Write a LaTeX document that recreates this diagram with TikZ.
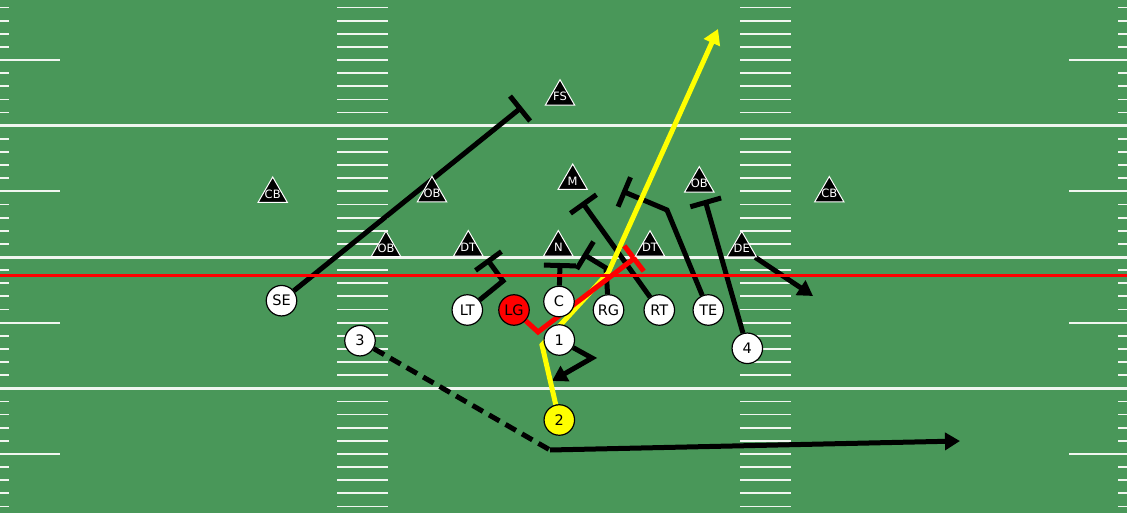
\documentclass[tikz,border=0pt]{standalone}
\usepackage{fontspec}
\setmainfont{DejaVu Sans}
\usetikzlibrary{shapes.geometric, arrows.meta, backgrounds}
\definecolor{turfgreen}{RGB}{73,151,89}
\definecolor{chalkwhite}{RGB}{240,246,240}
\definecolor{blitzred}{RGB}{255,0,0}
\definecolor{sweepyellow}{RGB}{255,255,0}

\tikzset{
  player/.style={circle, draw=black, line width=1.2pt, fill=white, minimum size=30.5pt, inner sep=0pt, font=\fontsize{14.5}{14.5}\selectfont},
  defender/.style={regular polygon, regular polygon sides=3, draw=white, line width=1pt, fill=black, text=white, minimum size=34pt, inner sep=0pt, font=\fontsize{11.5}{11.5}\selectfont},
  routeline/.style={line width=5pt, black},
  blockend/.style={-{Bar[width=32pt]}},
  runarrow/.style={-{Triangle[length=15pt,width=17pt]}},
  hashmark/.style={chalkwhite, line width=1.8pt},
  yardline/.style={chalkwhite, line width=3pt}
}

\begin{document}
\begin{tikzpicture}[x=1pt, y=-1pt]
\useasboundingbox (0,0) rectangle (1127,513);

% Offense
\node[player] (se) at (281.5,300.7) {SE};
\node[player] (lt) at (467.3,310) {LT};
\node[player, fill=blitzred] (lg) at (514,310) {LG};
\node[player] (c) at (559,301.5) {C};
\node[player] (rg) at (608.5,310) {RG};
\node[player] (rt) at (659.3,310) {RT};
\node[player] (te) at (708.3,310) {TE};
\node[player] (one) at (559.3,340) {1};
\node[player, fill=sweepyellow] (two) at (559.3,420) {2};
\node[player] (three) at (360,340.7) {3};
\node[player] (four) at (747.3,348.3) {4};

% Defense
\node[defender] (fs) at (560,96.7) {\makebox[0pt]{FS}};
\node[defender] (cbL) at (272.7,194) {\makebox[0pt]{CB}};
\node[defender] (obL) at (432,193.4) {\makebox[0pt]{OB}};
\node[defender] (m) at (572.7,181) {\makebox[0pt]{M}};
\node[defender] (obR) at (699.3,183.6) {\makebox[0pt]{OB}};
\node[defender] (cbR) at (829.3,193.5) {\makebox[0pt]{CB}};
\node[defender] (obLow) at (386,248) {\makebox[0pt]{OB}};
\node[defender] (dtL) at (468.3,247.5) {\makebox[0pt]{DT}};
\node[defender] (n) at (558.3,247.5) {\makebox[0pt]{N}};
\node[defender] (dtR) at (650,247.7) {\makebox[0pt]{DT}};
\node[defender] (de) at (741.7,248.3) {\makebox[0pt]{DE}};

% Route points
\coordinate (seEnd) at (522,107);
\coordinate (ltBend) at (503,281);
\coordinate (ltEnd) at (487,259);
\coordinate (cEnd) at (560,263);
\coordinate (rgBend) at (606,268);
\coordinate (rgEnd) at (583,254);
\coordinate (rtEnd) at (582,202);
\coordinate (teBend) at (667,210);
\coordinate (teEnd) at (622,191);
\coordinate (fourEnd) at (705,200);
\coordinate (deEnd) at (813,296);
\coordinate (oneBend) at (592,358);
\coordinate (oneEnd) at (552,381);
\coordinate (threeBend) at (550,450);
\coordinate (threeEnd) at (960,441);
\coordinate (twoBend) at (542,345);
\coordinate (twoCut) at (608,273);
\coordinate (twoEnd) at (718,29);
\coordinate (lgBend) at (538,332);
\coordinate (lgEnd) at (636,257);

\begin{scope}[on background layer]
% Field
\fill[turfgreen] (0,0) rectangle (1127,513);
\foreach \k in {-9,...,29} {
  \pgfmathsetmacro\hy{125.7+13.13*(\k)}
  \draw[hashmark] (0,\hy) -- (9,\hy);
  \draw[hashmark] (337,\hy) -- (388,\hy);
  \draw[hashmark] (740,\hy) -- (791,\hy);
  \draw[hashmark] (1118,\hy) -- (1127,\hy);
}
\foreach \hy in {60.05,191.35,322.65,453.95} {
  \draw[hashmark] (0,\hy) -- (60,\hy);
  \draw[hashmark] (1069,\hy) -- (1127,\hy);
}
\foreach \hy in {125.7,257,388.3}
  \draw[yardline] (0,\hy) -- (1127,\hy);

% Blocks
\draw[routeline, blockend] (se) -- (seEnd);
\draw[routeline, blockend] (lt) -- (ltBend) -- (ltEnd);
\draw[routeline, blockend] (c) -- (cEnd);
\draw[routeline, blockend] (rg) -- (rgBend) -- (rgEnd);
\draw[routeline, blockend] (rt) -- (rtEnd);
\draw[routeline, blockend] (te) -- (teBend) -- (teEnd);
\draw[routeline, blockend] (four) -- (fourEnd);

% Runs
\draw[routeline, runarrow] (de) -- (deEnd);
\draw[routeline, runarrow] (one) -- (oneBend) -- (oneEnd);
\draw[routeline, dash pattern=on 12pt off 7pt] (three) -- (threeBend);
\draw[routeline, runarrow] (threeBend) -- (threeEnd);
\draw[routeline, sweepyellow, runarrow] (two) -- (twoBend) -- (twoCut) -- (twoEnd);
\draw[routeline, blitzred, blockend] (lg) -- (lgBend) -- (lgEnd);

% Line of scrimmage
\draw[blitzred, line width=3.5pt] (0,275.7) -- (1127,275.7);
\end{scope}
\end{tikzpicture}
\end{document}
